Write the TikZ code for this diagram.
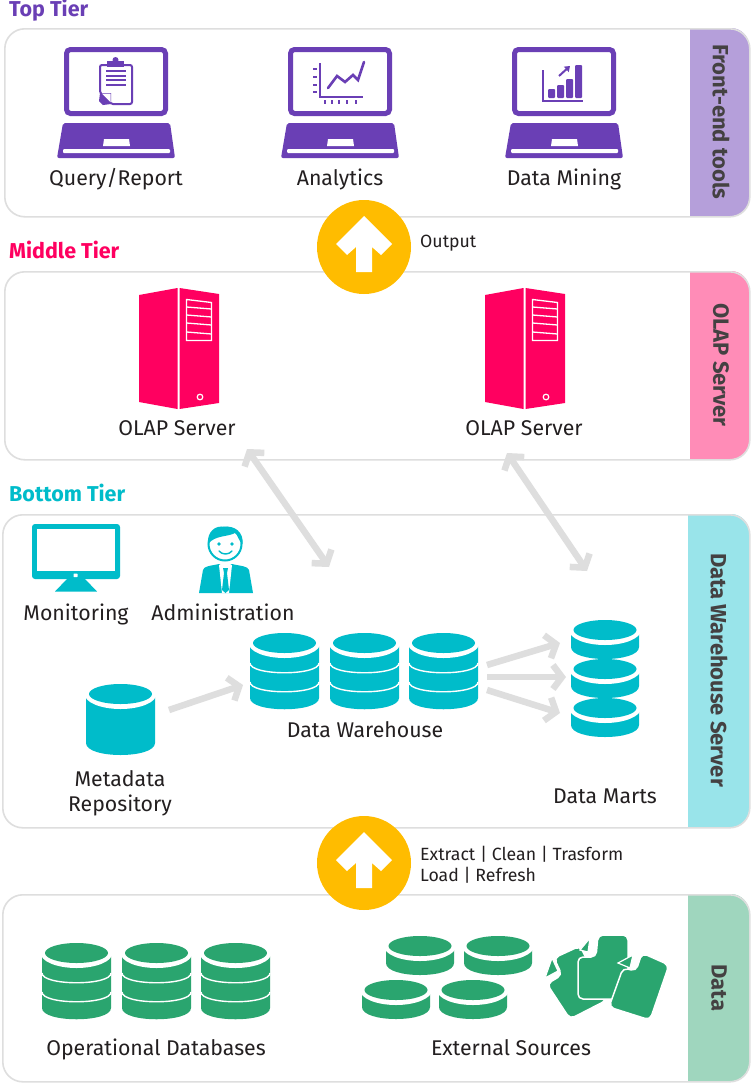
\documentclass[tikz,border=0pt]{standalone}
\usepackage{fontspec}
\setmainfont{Fira Sans}
\usetikzlibrary{arrows.meta}

\definecolor{inkgrey}{HTML}{231F20}
\definecolor{linegrey}{HTML}{DEDEDE}
\definecolor{toppurple}{HTML}{6A3FB5}
\definecolor{midpink}{HTML}{FF0060}
\definecolor{lowcyan}{HTML}{00BCCA}
\definecolor{datagreen}{HTML}{2AA56F}
\definecolor{roundyellow}{HTML}{FFBC00}

\tikzset{
  panel/.style={draw=linegrey, line width=1.6pt, rounded corners=20pt, inner sep=0pt, anchor=north west},
  tiertitle/.style={font=\fontsize{21.5}{24}\selectfont\bfseries, anchor=base west, inner sep=0pt},
  iconlabel/.style={font=\fontsize{21.3}{25}\selectfont, text=inkgrey, inner sep=0pt, anchor=base},
  steplabel/.style={font=\fontsize{17.7}{21}\selectfont, text=inkgrey, inner sep=0pt, anchor=base west},
  sidelabel/.style={font=\fontsize{22}{24}\selectfont\bfseries, text=inkgrey!85, rotate=-90, inner sep=0pt},
  flowline/.style={draw=linegrey, line width=6.5pt, -{Straight Barb[length=9pt,width=24pt]}},
  bothline/.style={draw=linegrey, line width=6.5pt, {Straight Barb[length=9pt,width=24pt]}-{Straight Barb[length=9pt,width=24pt]}},
  pagebody/.style={fill=datagreen, draw=white, line width=1.5pt, rounded corners=5pt},
  pagefold/.style={fill=datagreen, draw=white, line width=1.2pt},
}

% one laptop, #1 = left edge of the screen
\newcommand{\laptopicon}[1]{
  \begin{scope}[shift={(#1,47)}]
    \draw[toppurple, line width=5pt, rounded corners=4pt] (2.5,2.5) rectangle (101.5,66.5);
    \fill[toppurple, rounded corners=2pt] (-1,76) -- (106,76) -- (111,111) -- (-7,111) -- cycle;
    \fill[white] (40,92) -- (65,92) -- (66,99) -- (39,99) -- cycle;
    \fill[white, rounded corners=1pt] (-1,102) rectangle (106,106);
  \end{scope}
}
% cylinder with three layers, #1 = left, #2 = top, #3 = colour
\newcommand{\dbstack}[3]{
  \begin{scope}[shift={(#1,#2)}]
    \fill[#3] (0,13) -- (0,65) .. controls (0,80) and (69,80) .. (69,65) -- (69,13) -- cycle;
    \fill[white] (34.5,10) ellipse [x radius=36, y radius=15];
    \fill[#3] (34.5,10) ellipse [x radius=31.5, y radius=10];
    \draw[white, line width=1.4pt] (0,30) .. controls (0,43) and (69,43) .. (69,30);
    \draw[white, line width=1.4pt] (0,49) .. controls (0,62) and (69,62) .. (69,49);
  \end{scope}
}
% one flat disk, #1 = left, #2 = top, #3 = colour
\newcommand{\dbdisk}[3]{
  \begin{scope}[shift={(#1,#2)}]
    \fill[#3] (0,14) -- (0,27) .. controls (0,43) and (68,43) .. (68,27) -- (68,14) -- cycle;
    \fill[white] (34,10) ellipse [x radius=36, y radius=15];
    \fill[#3] (34,10) ellipse [x radius=31.5, y radius=10];
  \end{scope}
}
% tower of the OLAP server, #1 = left edge
\newcommand{\servericon}[1]{
  \begin{scope}[shift={(#1,288)}]
    \fill[midpink] (0,7) -- (38.5,0) -- (38.5,121) -- (0,114) -- cycle;
    \fill[midpink] (40.5,0) -- (80,6) -- (80,115) -- (40.5,121) -- cycle;
    \draw[white, line width=1.3pt] (47.5,11.5) -- (72.5,14.5) -- (72.5,52.5) -- (47.5,52.5) -- cycle;
    \foreach \ypos in {19,27,35,44}
      \draw[white, line width=1.3pt] (47.5,\ypos) -- (72.5,\ypos+2);
    \draw[white, line width=1.2pt] (61,109) circle (2.8);
  \end{scope}
}
% yellow circle with the white arrow, #1 = centre y
\newcommand{\uparrowcircle}[2]{
  \node[circle, fill=roundyellow, minimum size=94pt, inner sep=0pt] (#2) at (364,#1) {};
  \begin{scope}[shift={(364,#1)}]
    \fill[white] (0,-31) -- (28,-3) -- (17,8) -- (8,0) -- (8,25) -- (-8,25) -- (-8,0) -- (-17,8) -- (-28,-3) -- cycle;
  \end{scope}
}

\begin{document}
\begin{tikzpicture}[x=1pt,y=-1pt]
  \useasboundingbox (0,0) rectangle (750,1087);
  \fill[white] (0,0) rectangle (750,1087);

  % side tabs
  \fill[toppurple!50] (690,28) {[rounded corners=18pt] -- (749,28) -- (749,216)} -- (690,216) -- cycle;
  \fill[midpink!45] (690,271) {[rounded corners=18pt] -- (749,271) -- (749,459)} -- (690,459) -- cycle;
  \fill[lowcyan!40] (688,514) {[rounded corners=18pt] -- (749,514) -- (749,827)} -- (688,827) -- cycle;
  \fill[datagreen!45] (688,894) {[rounded corners=18pt] -- (749,894) -- (749,1081)} -- (688,1081) -- cycle;

  % panels
  \node[panel, minimum width=745pt, minimum height=188pt] (toppanel) at (4,28) {};
  \node[panel, minimum width=745pt, minimum height=188pt] (midpanel) at (4,271) {};
  \node[panel, minimum width=747pt, minimum height=313pt] (lowpanel) at (2,514) {};
  \node[panel, minimum width=747pt, minimum height=187pt] (datapanel) at (2,894) {};

  \node[sidelabel] (sidetop) at (721,122) {Front-end tools};
  \node[sidelabel] (sidemid) at (721,365) {OLAP Server};
  \node[sidelabel] (sidelow) at (719,670) {Data Warehouse Server};
  \node[sidelabel] (sidedata) at (719,988) {Data};

  % tier titles
  \node[tiertitle, text=toppurple] (toptitle) at (9,16) {Top Tier};
  \node[tiertitle, text=midpink] (midtitle) at (9,258) {Middle Tier};
  \node[tiertitle, text=lowcyan] (lowtitle) at (9,501) {Bottom Tier};

  % top tier
  \laptopicon{64}
  \laptopicon{288}
  \laptopicon{512}

  % clipboard
  \draw[toppurple, line width=2pt, rounded corners=2pt] (100,65) -- (132,65) -- (132,104) -- (111,104) -- (100,93) -- cycle;
  \fill[toppurple] (107,61) rectangle (124,67);
  \fill[toppurple] (115.5,60) circle (3);
  \foreach \ypos in {71,76,80,85}
    \draw[toppurple, line width=1.6pt] (106,\ypos) -- (126,\ypos);
  \fill[toppurple] (100,93) -- (111,93) -- (111,104) -- (103,105) -- (99,101) -- cycle;
  \fill[white] (102,93.5) -- (110.5,93.5) -- (110.5,102) -- cycle;

  % line chart
  \draw[toppurple, line width=2.6pt] (320,63) -- (320,97) -- (363,97);
  \draw[toppurple, line width=2.6pt, line cap=round] (328,88) -- (337,76) -- (345,82) -- (353,75) -- (358,80) -- (364,62);
  \foreach \ypos in {69,77,85,92}
    \draw[toppurple, line width=1.4pt] (313,\ypos) -- (317,\ypos);
  \foreach \xpos in {325,332,339,347,356}
    \draw[toppurple, line width=1.4pt] (\xpos,100) -- (\xpos,104);

  % bar chart
  \draw[toppurple, line width=1.6pt] (543,70) -- (543,101) -- (583,101);
  \fill[toppurple, rounded corners=1pt] (548,89) rectangle (555,98);
  \fill[toppurple, rounded corners=1pt] (557,85) rectangle (564,98);
  \fill[toppurple, rounded corners=1pt] (566,79) rectangle (573,98);
  \fill[toppurple, rounded corners=1pt] (575,65) rectangle (582,98);
  \draw[toppurple, line width=2pt, -{Triangle[length=5pt,width=7pt]}] (559,76) -- (570,66);

  \node[iconlabel] (queryname) at (116,185) {Query/Report};
  \node[iconlabel] (analyticsname) at (340,185) {Analytics};
  \node[iconlabel] (miningname) at (564,185) {Data Mining};

  % middle tier
  \servericon{139}
  \servericon{485}
  \node[iconlabel] (olapleft) at (177,435) {OLAP Server};
  \node[iconlabel] (olapright) at (524,435) {OLAP Server};

  % bottom tier
  \fill[lowcyan, rounded corners=3pt] (32,524) rectangle (120,579);
  \fill[white] (37,529) rectangle (115,571);
  \fill[white, rounded corners=0.5pt] (73.5,573.5) rectangle (77.5,577);
  \fill[lowcyan] (67,579) -- (85,579) -- (97,591.5) -- (55,591.5) -- cycle;

  % administrator
  \fill[lowcyan] (199,593) -- (203,570) .. controls (204,566) and (210,566) .. (219,564) -- (225,568) -- (232,564) .. controls (240,566) and (248,566) .. (249,570) -- (253,593) -- cycle;
  \fill[white] (219,565) -- (232,565) -- (229,593) -- (222,593) -- cycle;
  \fill[lowcyan] (223,568) -- (228,568) -- (227,573) -- (229,590) -- (225.5,593) -- (222,590) -- (224,573) -- cycle;
  \draw[lowcyan, line width=2pt, fill=white] (225,544) circle (16.5);
  \fill[lowcyan] (208,544) .. controls (207,531) and (216,525) .. (224,527) .. controls (234,525) and (244,532) .. (242.5,544) .. controls (238,540) and (238,535) .. (235,533) .. controls (228,537) and (215,535) .. (208,544) -- cycle;
  \fill[lowcyan] (219,544) circle (1.9);
  \fill[lowcyan] (232,544) circle (1.9);
  \draw[lowcyan, line width=1.4pt, line cap=round] (219,551) .. controls (222,555) and (229,555) .. (232,551);

  \node[iconlabel] (monitorname) at (76,620) {Monitoring};
  \node[iconlabel] (adminname) at (223,620) {Administration};

  % metadata cylinder
  \fill[lowcyan] (86,697) -- (86,743) .. controls (86,759) and (155,759) .. (155,743) -- (155,697) -- cycle;
  \fill[white] (120.5,694) ellipse [x radius=36, y radius=15];
  \fill[lowcyan] (120.5,694) ellipse [x radius=31.5, y radius=10];
  \node[iconlabel] (metaname) at (120,786) {Metadata};
  \node[iconlabel] (reponame) at (120,811) {Repository};

  \dbstack{250}{633}{lowcyan}
  \dbstack{330}{633}{lowcyan}
  \dbstack{409}{633}{lowcyan}
  \node[iconlabel] (warename) at (365,737) {Data Warehouse};

  \dbdisk{571}{698}{lowcyan}
  \dbdisk{571}{659}{lowcyan}
  \dbdisk{571}{620}{lowcyan}
  \node[iconlabel] (martname) at (605,803) {Data Marts};

  % connectors
  \coordinate (olapleftfoot) at (247,449);
  \coordinate (olaprightfoot) at (507,453);
  \coordinate (wareleft) at (243,685);
  \coordinate (metaright) at (169,710);
  \coordinate (wareupper) at (329,567);
  \coordinate (martupper) at (587,571);
  \coordinate (waretop) at (487,665);
  \coordinate (waremid) at (487,677);
  \coordinate (warelow) at (487,690);
  \coordinate (marta) at (560,643);
  \coordinate (martb) at (566,677);
  \coordinate (martc) at (560,713);
  \draw[bothline] (olapleftfoot) -- (wareupper);
  \draw[bothline] (olaprightfoot) -- (martupper);
  \draw[flowline] (metaright) -- (wareleft);
  \draw[flowline] (waretop) -- (marta);
  \draw[flowline] (waremid) -- (martb);
  \draw[flowline] (warelow) -- (martc);

  % circles between the tiers
  \uparrowcircle{247}{outcircle}
  \uparrowcircle{863}{loadcircle}
  \node[steplabel] (outname) at (420,247) {Output};
  \node[steplabel] (extractname) at (420,860) {Extract | Clean | Trasform};
  \node[steplabel] (loadname) at (420,881) {Load | Refresh};

  % data tier
  \dbstack{42}{943}{datagreen}
  \dbstack{122}{943}{datagreen}
  \dbstack{201}{943}{datagreen}
  \node[iconlabel] (opname) at (156,1055) {Operational Databases};

  \dbdisk{386}{936}{datagreen}
  \dbdisk{464}{936}{datagreen}
  \dbdisk{362}{980}{datagreen}
  \dbdisk{439}{980}{datagreen}

  % loose pages
  \filldraw[pagebody] (547,984) -- (562,975) -- (554,958) -- (580,946) -- (607,1000) -- (570,1019) -- cycle;
  \filldraw[pagefold] (545,978) -- (552,958) -- (558,971) -- cycle;
  \filldraw[pagebody] (598,935) -- (628,935) -- (628,999) -- (578,999) -- (578,957) -- (596,957) -- cycle;
  \filldraw[pagefold] (580,950) -- (590,938) -- (588,952) -- cycle;
  \filldraw[pagebody] (642,953) -- (669,965) -- (650,1020) -- (609,1007) -- (623,968) -- (636,971) -- cycle;
  \filldraw[pagefold] (618,963) -- (633,955) -- (630,968) -- cycle;

  \node[iconlabel] (extname) at (511,1055) {External Sources};
\end{tikzpicture}
\end{document}
